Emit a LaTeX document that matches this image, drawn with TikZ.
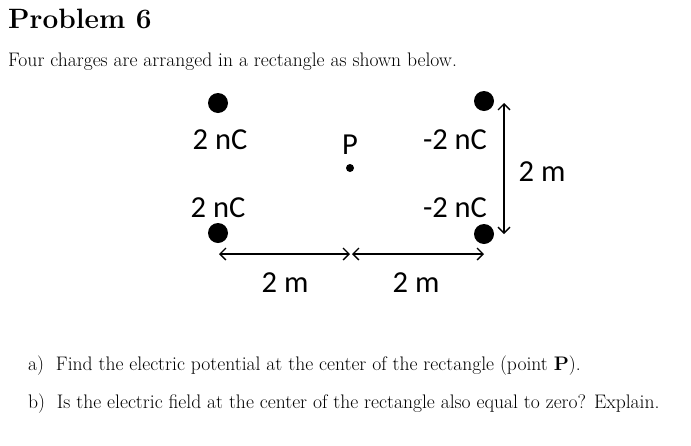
\documentclass[tikz,border=0pt]{standalone}
\usepackage{fontspec}
\newfontfamily\lbl{Carlito}
\usetikzlibrary{arrows.meta}
\begin{document}
\begin{tikzpicture}[x=1pt,y=-1pt,
  chg/.style={circle,fill=black,inner sep=0pt,minimum size=20pt},
  lab/.style={font=\lbl\fontsize{30.5}{33}\selectfont,inner sep=0pt},
  txt/.style={font=\fontsize{19.6}{22}\selectfont,inner sep=0pt,anchor=west},
  dim/.style={{Straight Barb[length=6pt,width=12pt]}-{Straight Barb[length=6pt,width=12pt]},line width=1.3pt}]
\useasboundingbox (0,0) rectangle (691,445);
\node[font=\fontsize{28}{32}\selectfont\bfseries,inner sep=0pt,anchor=west] (title) at (8,19) {Problem 6};
\node[txt] (intro) at (8,62) {Four charges are arranged in a rectangle as shown below.};
\node[chg] (tl) at (218,103) {};
\node[chg] (tr) at (484,101) {};
\node[chg] (bl) at (218,233) {};
\node[chg] (br) at (484,234) {};
\node[circle,fill=black,inner sep=0pt,minimum size=8pt] (p) at (350,168) {};
\node[lab] (ltl) at (220,140) {2 nC};
\node[lab] (lp) at (350,145) {P};
\node[lab] (ltr) at (455,140) {-2 nC};
\node[lab] (lbl) at (218,208) {2 nC};
\node[lab] (lbr) at (455,208) {-2 nC};
\node[lab] (lv) at (542,172) {2 m};
\node[lab] (lh1) at (285,283) {2 m};
\node[lab] (lh2) at (416,283) {2 m};
\coordinate (v1) at (504,103); \coordinate (v2) at (504,234);
\coordinate (h1) at (219,254); \coordinate (hm) at (350,254); \coordinate (hm2) at (352,254); \coordinate (h2) at (484,254);
\draw[dim] (v1) -- (v2);
\draw[dim] (h1) -- (hm);
\draw[dim] (hm2) -- (h2);
\node[txt] (qa) at (28,366) {a)\ \ Find the electric potential at the center of the rectangle (point \textbf{P}).};
\node[txt] (qb) at (28,404) {b)\ \ Is the electric field at the center of the rectangle also equal to zero? Explain.};
\end{tikzpicture}
\end{document}
